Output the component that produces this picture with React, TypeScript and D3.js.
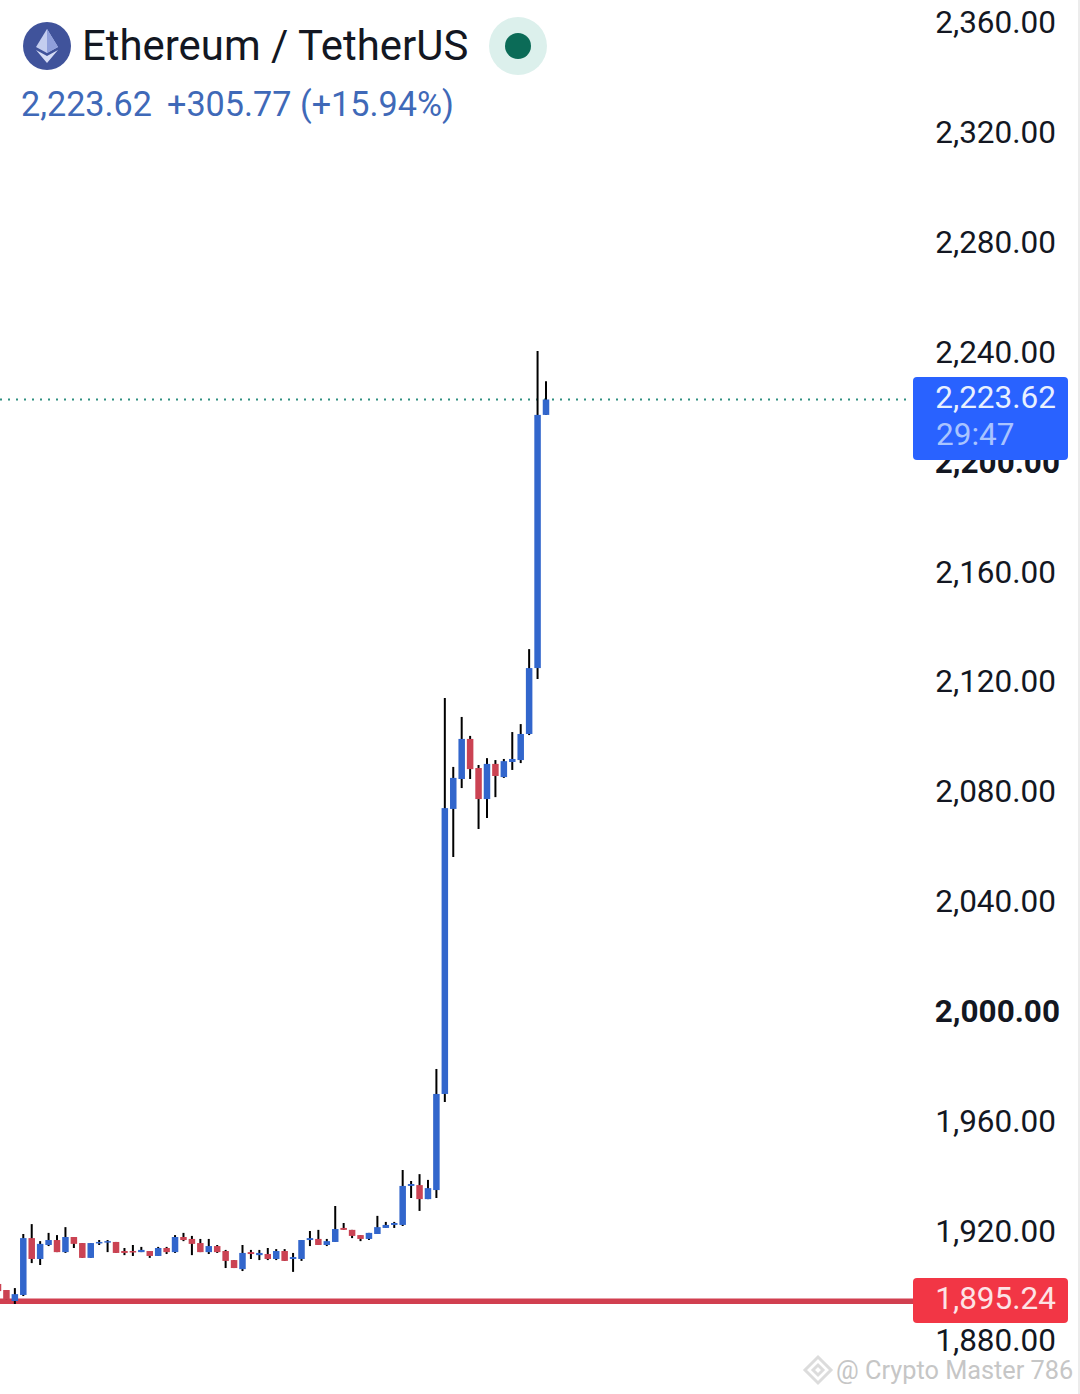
import React from 'react';
import * as d3 from 'd3';

// candles, oldest first
const opens = [1901.5, 1899.3, 1895.3, 1897.5, 1918.2, 1910.6, 1915.7, 1917.5, 1913.1, 1918.6, 1916.4, 1911.0, 1916.4, 1916.8, 1916.8, 1913.5, 1913.5, 1913.1, 1913.5, 1911.7, 1914.6, 1913.1, 1918.6, 1917.9, 1916.4, 1913.1, 1915.3, 1913.5, 1910.2, 1906.9, 1913.1, 1912.0, 1912.4, 1910.6, 1913.5, 1910.6, 1910.6, 1917.5, 1917.9, 1915.7, 1916.8, 1921.9, 1921.2, 1919.3, 1917.9, 1919.7, 1921.9, 1923.0, 1923.0, 1937.2, 1937.5, 1932.4, 1935.7, 1970.7, 2074.5, 2085.4, 2100.0, 2089.4, 2078.1, 2090.9, 2086.1, 2091.6, 2092.3, 2101.8, 2125.8, 2218.0];
const highs = [1901.5, 1899.3, 1900.0, 1919.7, 1923.3, 1917.1, 1920.1, 1919.3, 1922.2, 1918.6, 1916.4, 1916.4, 1917.5, 1917.5, 1916.8, 1914.6, 1915.7, 1915.0, 1913.5, 1915.0, 1915.0, 1919.3, 1920.1, 1919.0, 1917.9, 1917.9, 1915.7, 1913.9, 1910.2, 1915.7, 1913.9, 1913.9, 1914.6, 1914.2, 1914.2, 1912.8, 1917.5, 1920.8, 1921.2, 1917.9, 1929.9, 1923.7, 1921.2, 1919.3, 1920.1, 1926.3, 1924.1, 1924.1, 1943.0, 1939.0, 1941.5, 1939.4, 1979.8, 2114.9, 2089.8, 2108.0, 2101.1, 2090.5, 2093.0, 2092.3, 2092.7, 2102.5, 2105.4, 2132.7, 2241.3, 2230.3];
const lows = [1898.9, 1895.7, 1894.2, 1897.1, 1909.1, 1908.4, 1915.3, 1913.1, 1912.8, 1914.6, 1911.0, 1911.0, 1915.7, 1913.1, 1912.8, 1912.0, 1911.7, 1913.1, 1911.0, 1911.7, 1912.4, 1912.8, 1917.1, 1912.0, 1913.1, 1912.4, 1912.8, 1907.3, 1907.3, 1906.2, 1910.6, 1910.2, 1910.2, 1910.2, 1909.9, 1905.9, 1909.9, 1915.3, 1915.7, 1915.3, 1916.8, 1921.2, 1918.2, 1917.1, 1917.5, 1919.7, 1921.9, 1921.9, 1922.6, 1932.8, 1928.1, 1932.4, 1932.8, 1967.8, 2057.0, 2082.1, 2085.4, 2067.2, 2071.2, 2078.8, 2085.8, 2088.7, 2091.2, 2101.4, 2121.8, 2218.0];
const closes = [1898.9, 1895.7, 1897.8, 1918.2, 1910.6, 1916.1, 1917.5, 1913.1, 1918.6, 1916.1, 1911.0, 1916.4, 1916.8, 1917.1, 1912.8, 1912.8, 1913.1, 1913.9, 1911.7, 1914.6, 1913.1, 1918.6, 1917.5, 1916.1, 1913.1, 1915.3, 1913.1, 1909.9, 1907.3, 1912.8, 1912.4, 1912.8, 1910.6, 1913.5, 1909.9, 1911.3, 1917.5, 1918.2, 1915.7, 1917.1, 1921.5, 1921.2, 1919.0, 1917.9, 1920.1, 1922.2, 1923.0, 1923.7, 1937.2, 1937.9, 1932.4, 1936.4, 1970.7, 2074.8, 2085.8, 2100.0, 2089.0, 2078.1, 2090.9, 2086.5, 2091.9, 2092.7, 2101.8, 2125.8, 2218.0, 2223.62];

const priceTicks = [1880, 1920, 1960, 2000, 2040, 2080, 2120, 2160, 2200, 2240, 2280, 2320, 2360];
const boldTicks = [2000, 2200];
const lastPrice = 2223.62;
const refPrice = 1895.24;
const countdown = '29:47';
const title = 'Ethereum / TetherUS';
const changeText = '+305.77 (+15.94%)';
const watermark = '@ Crypto Master 786';

const UP = '#3266cc';
const DOWN = '#cb4353';
const FONT = 'Roboto, sans-serif';

const fmt = d3.format(',.2f');

export default function App() {
  const y = d3.scaleLinear().domain([1880, 2360]).range([1343, 25]);
  const x = d3.scaleLinear().domain([0, opens.length - 1]).range([-2, 546]);

  return (
    <svg
      width={1080}
      height={1394}
      viewBox="0 0 1080 1394"
      style={{ position: 'absolute', left: 0, top: 0, background: '#fff', fontFamily: FONT }}
    >
      <rect x={1078} y={0} width={2} height={1394} fill="#ececec" />

      {/* price axis */}
      {priceTicks.map((t) => {
        const bold = boldTicks.includes(t);
        return (
          <text
            key={t}
            x={bold ? 1060 : 1056}
            y={y(t) - 3}
            dy="0.36em"
            textAnchor="end"
            fontSize={31.5}
            fontWeight={bold ? 700 : 400}
            fill="#131722"
          >
            {fmt(t)}
          </text>
        );
      })}

      {/* last price line */}
      <line x1={0} x2={908} y1={y(lastPrice)} y2={y(lastPrice)} stroke="#2f8f80" strokeWidth={2} strokeDasharray="2 6" />

      {/* reference line */}
      <line x1={0} x2={913} y1={y(refPrice)} y2={y(refPrice)} stroke="#d13f50" strokeWidth={5.5} />

      {/* candles */}
      {opens.map((o, i) => {
        const c = closes[i];
        const top = y(Math.max(o, c));
        const bottom = y(Math.min(o, c));
        return (
          <g key={i}>
            <line x1={x(i)} x2={x(i)} y1={y(highs[i])} y2={y(lows[i])} stroke="#000" strokeWidth={2} />
            <rect x={x(i) - 3.25} y={top} width={6.5} height={Math.max(bottom - top, 1.5)} fill={c >= o ? UP : DOWN} />
          </g>
        );
      })}

      {/* price labels */}
      <rect x={913} y={377} width={155} height={83} rx={4} fill="#2962ff" />
      <text x={1056} y={408} textAnchor="end" fontSize={31.5} fill="#e8f0ff">
        {fmt(lastPrice)}
      </text>
      <text x={936} y={445} fontSize={31.5} fill="#a9c4ff">
        {countdown}
      </text>
      <rect x={913} y={1278} width={155} height={45} rx={4} fill="#f23645" />
      <text x={1056} y={1309} textAnchor="end" fontSize={31.5} fill="#fde3e5">
        {fmt(refPrice)}
      </text>

      {/* header */}
      <circle cx={47} cy={46} r={24} fill="#40539b" />
      <path d="M47 29 L36 47 L47 53 L58 47 Z" fill="#c3cdef" />
      <path d="M47 29 L47 53 L58 47 Z" fill="#8f9fdb" />
      <path d="M36 50 L47 63 L58 50 L47 56 Z" fill="#d5dcf5" />
      <text x={82} y={60} fontSize={41.9} fill="#131722">
        {title}
      </text>
      <circle cx={518} cy={46} r={29} fill="#dcf0ec" />
      <circle cx={518} cy={46} r={13} fill="#0b6b57" />
      <text x={21} y={116} fontSize={34.2} fill="#3f69b8">
        {fmt(lastPrice)}
      </text>
      <text x={167} y={116} fontSize={34.2} fill="#3f69b8">
        {changeText}
      </text>

      {/* watermark */}
      <g fill="none" stroke="#dcdcdc" strokeWidth={3}>
        <path d="M818 1357 L831 1370 L818 1383 L805 1370 Z" />
        <path d="M818 1365 L823 1370 L818 1375 L813 1370 Z" />
      </g>
      <text x={836} y={1379} fontSize={25.3} fill="#c6c6c6">
        {watermark}
      </text>
    </svg>
  );
}
